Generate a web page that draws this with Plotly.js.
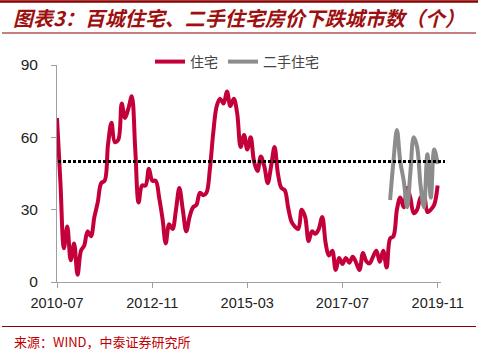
<!DOCTYPE html>
<html>
<head>
<meta charset="utf-8">
<script src="https://cdn.plot.ly/plotly-3.0.1.min.js"></script>
<style>
html,body{margin:0;padding:0;background:#fff;}
#chart{width:478px;height:351px;}
</style>
</head>
<body>
<div id="chart"></div>
<script>
// ---- data ----
var startMonth = '2010-07';
var residentialValues = [
  68, 41, 14, 23, 9, 16, 3, 13, 15, 21,
  19, 27, 33, 41, 42, 57, 66, 58, 59, 74,
  68, 72, 77, 55, 33, 40, 40, 47, 42, 42,
  35, 26, 16, 24, 22, 30, 39, 30, 21, 27,
  31, 32, 37, 36, 37, 47, 62, 73, 76, 74,
  79, 73, 76, 70, 56, 61, 55, 60, 50, 46,
  52, 48, 41, 48, 56, 45, 39, 38, 31, 25,
  23, 22, 30, 27, 17, 21, 20, 22, 27, 16,
  11, 13, 5, 10, 7.5, 10, 8, 10.5, 8, 5,
  12, 8.5, 7.7, 10.5, 13, 8.4, 13, 6, 18, 19,
  30, 35, 31, 39, 35, 28.5, 30, 35, 36, 29,
  30, 32, 40
];
var secondHandStart = '2018-09';
var secondHandValues = [34, 50, 63, 50, 42, 31, 45, 60, 56, 40, 31, 53, 35, 55, 49];
var thresholdValue = 50;
var tickLabels = ['2010-07', '2012-11', '2015-03', '2017-07', '2019-11'];
var yTicks = [0, 30, 60, 90];
var seriesNames = ['住宅', '二手住宅'];
var titleText = '图表3：百城住宅、二手住宅房价下跌城市数（个）';
var sourceText = '来源：WIND，中泰证券研究所';

// month labels for each value
function monthList(start, n) {
  var y = parseInt(start.slice(0, 4), 10), m = parseInt(start.slice(5, 7), 10);
  var out = [];
  for (var i = 0; i < n; i++) {
    out.push(y + '-' + (m < 10 ? '0' : '') + m);
    m++; if (m > 12) { m = 1; y++; }
  }
  return out;
}
var months = monthList(startMonth, residentialValues.length);
var secondHandMonths = monthList(secondHandStart, secondHandValues.length);

var latin = '"Liberation Sans", Arial, sans-serif';
var cjk = '"Noto Sans CJK SC", "Noto Sans", sans-serif';

var traces = [
  {x: months, y: residentialValues, name: seriesNames[0], type: 'scatter', mode: 'lines',
   line: {color: '#C4003A', width: 4, shape: 'spline', smoothing: 1}},
  {x: secondHandMonths, y: secondHandValues, name: seriesNames[1], type: 'scatter', mode: 'lines',
   line: {color: '#8C8C8C', width: 4, shape: 'spline', smoothing: 1}}
];

var L = 57, R = 441, T = 65, B = 282;
function px2x(px) { return (px - L) / (R - L); }
function py2y(py) { return (B - py) / (B - T); }

var layout = {
  width: 478, height: 351,
  margin: {l: L, r: 478 - R, t: T, b: 351 - B, autoexpand: false},
  paper_bgcolor: '#fff', plot_bgcolor: '#fff',
  showlegend: true,
  title: {text: titleText, xref: 'container', yref: 'container', x: 13 / 478, xanchor: 'left',
          y: 1 - 19 / 351, yanchor: 'middle', automargin: false,
          font: {family: cjk, size: 20, color: '#9E1010', weight: 'bold', style: 'italic'}},
  legend: {orientation: 'h', xref: 'container', yref: 'container', x: 150 / 478, xanchor: 'left',
           y: 1 - 46 / 351, yanchor: 'top', font: {family: cjk, size: 14, color: '#444'},
           bgcolor: 'rgba(0,0,0,0)'},
  xaxis: {type: 'date', range: ['2010-07-01', '2019-12-01'], tickvals: tickLabels, ticktext: tickLabels,
          showgrid: false, zeroline: false, showline: true, linecolor: '#A0A0A0', linewidth: 1,
          ticks: 'outside', ticklen: 5, tickcolor: '#A0A0A0', ticklabelstandoff: 3,
          tickfont: {family: latin, size: 14.5, color: '#222'}},
  yaxis: {range: [0, 90], tickvals: yTicks, showgrid: false, zeroline: false, showline: true,
          linecolor: '#A0A0A0', linewidth: 1, ticks: 'outside', ticklen: 5, tickcolor: '#A0A0A0',
          ticklabelstandoff: 10,
          tickfont: {family: latin, size: 15.5, color: '#222'}},
  shapes: [
    {type: 'line', xref: 'paper', yref: 'y', x0: px2x(58), x1: px2x(445), y0: thresholdValue, y1: thresholdValue,
     line: {color: '#000', width: 3, dash: '3px,2px'}},
    {type: 'line', xref: 'paper', yref: 'paper', x0: px2x(0), x1: px2x(478), y0: py2y(1.5), y1: py2y(1.5),
     line: {color: '#8B0000', width: 2.5}},
    {type: 'line', xref: 'paper', yref: 'paper', x0: px2x(2), x1: px2x(476), y0: py2y(33), y1: py2y(33),
     line: {color: '#8B0000', width: 1.2}},
    {type: 'line', xref: 'paper', yref: 'paper', x0: px2x(2), x1: px2x(476), y0: py2y(326.5), y1: py2y(326.5),
     line: {color: '#8B0000', width: 1.2}}
  ],
  annotations: [
    {text: sourceText, xref: 'paper', yref: 'paper', x: px2x(12), y: py2y(341.5), xanchor: 'left', yanchor: 'middle',
     showarrow: false, font: {family: cjk, size: 13, color: '#C00000'}}
  ]
};

Plotly.newPlot('chart', traces, layout, {displayModeBar: false, staticPlot: true});
</script>
</body>
</html>
